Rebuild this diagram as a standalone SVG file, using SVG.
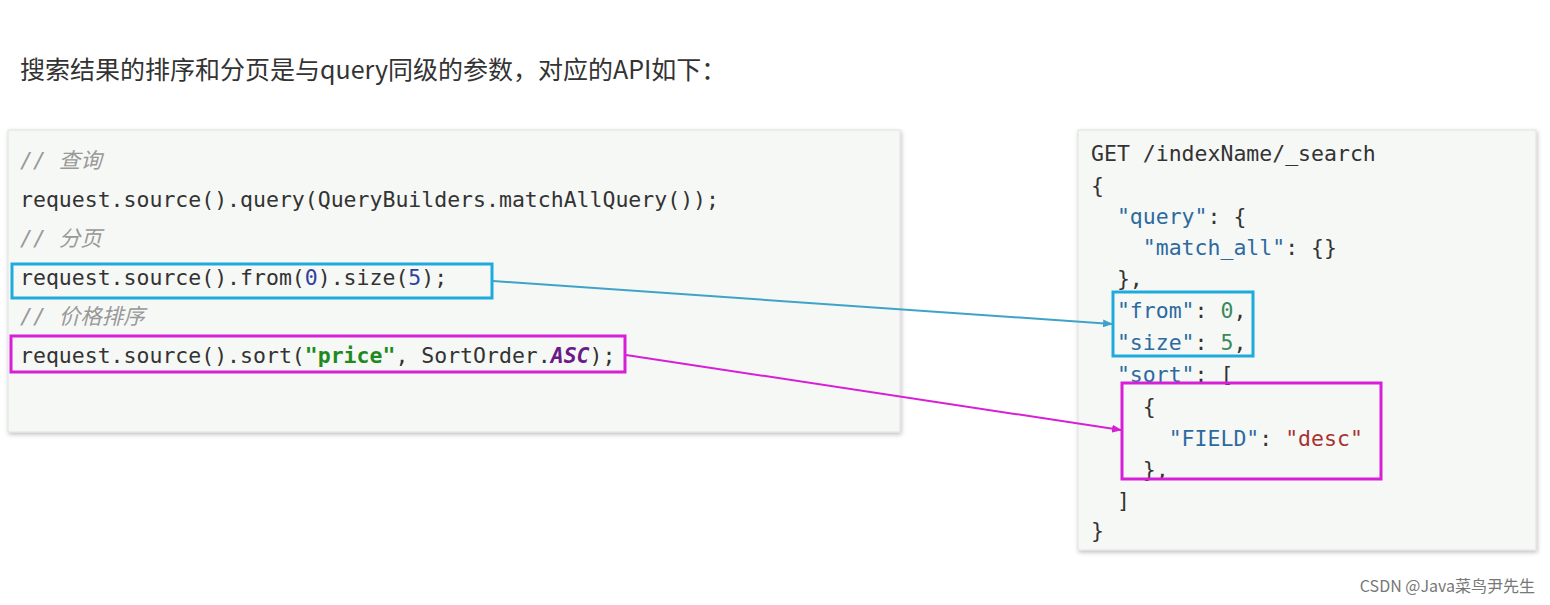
<svg xmlns="http://www.w3.org/2000/svg" width="1550" height="605" viewBox="0 0 1550 605">
<defs>
<style>
.code{font-family:"DejaVu Sans Mono",monospace;font-size:21.5px;fill:#333}
.cm{font-family:"DejaVu Sans Mono","Noto Sans CJK SC",monospace;font-size:21.5px;fill:#999;font-style:italic}
.key{fill:#2d6aa0}.num{fill:#3a8a5a}.str{fill:#a83232}
.panel{fill:#f6f8f6;stroke:#e0e0e0;filter:url(#sh)}
</style>
<filter id="sh" x="-5%" y="-5%" width="110%" height="110%"><feDropShadow dx="1" dy="2" stdDeviation="2" flood-color="#000" flood-opacity="0.25"/></filter>
<marker id="ab" markerWidth="10" markerHeight="8" refX="9" refY="4" orient="auto" markerUnits="userSpaceOnUse"><path d="M0,0 L10,4 L0,8 Z" fill="#3fa3c8"/></marker>
<marker id="am" markerWidth="10" markerHeight="8" refX="9" refY="4" orient="auto" markerUnits="userSpaceOnUse"><path d="M0,0 L10,4 L0,8 Z" fill="#d61fd6"/></marker>
</defs>
<rect width="1550" height="605" fill="#fff"/>
<text x="20" y="79" font-family="'Noto Sans CJK SC',sans-serif" font-size="25" fill="#333">搜索结果的排序和分页是与query同级的参数，对应的API如下：</text>
<g id="left-panel">
<rect class="panel" x="8" y="130" width="892" height="302"/>
<text class="cm" x="20" y="168">// 查询</text>
<text class="code" x="20" y="207">request.source().query(QueryBuilders.matchAllQuery());</text>
<text class="cm" x="20" y="246">// 分页</text>
<text class="code" x="20" y="285">request.source().from(<tspan fill="#3040a0">0</tspan>).size(<tspan fill="#3040a0">5</tspan>);</text>
<text class="cm" x="20" y="324">// 价格排序</text>
<text class="code" x="20" y="363">request.source().sort(<tspan fill="#1e8a1e" font-weight="bold">"price"</tspan>, SortOrder.<tspan fill="#6a1a8a" font-weight="bold" font-style="italic">ASC</tspan>);</text>
</g>
<g id="right-panel">
<rect class="panel" x="1078" y="130" width="458" height="420"/>
<text class="code" x="1091" y="161">GET /indexName/_search</text>
<text class="code" x="1091" y="193">{</text>
<text class="code" x="1091" y="224" xml:space="preserve">  <tspan class="key">"query"</tspan>: {</text>
<text class="code" x="1091" y="255" xml:space="preserve">    <tspan class="key">"match_all"</tspan>: {}</text>
<text class="code" x="1091" y="286" xml:space="preserve">  },</text>
<text class="code" x="1091" y="318" xml:space="preserve">  <tspan class="key">"from"</tspan>: <tspan class="num">0</tspan>,</text>
<text class="code" x="1091" y="350" xml:space="preserve">  <tspan class="key">"size"</tspan>: <tspan class="num">5</tspan>,</text>
<text class="code" x="1091" y="382" xml:space="preserve">  <tspan class="key">"sort"</tspan>: [</text>
<text class="code" x="1091" y="414" xml:space="preserve">    {</text>
<text class="code" x="1091" y="446" xml:space="preserve">      <tspan class="key">"FIELD"</tspan>: <tspan class="str">"desc"</tspan></text>
<text class="code" x="1091" y="477" xml:space="preserve">    },</text>
<text class="code" x="1091" y="508" xml:space="preserve">  ]</text>
<text class="code" x="1091" y="538">}</text>
</g>
<g id="highlights" fill="none" stroke-width="3">
<rect x="12" y="264" width="480" height="34" stroke="#1eaadc"/>
<rect x="11" y="336" width="614" height="36" stroke="#d61fd6"/>
<rect x="1113" y="292" width="140" height="64" stroke="#1eaadc"/>
<rect x="1122" y="383" width="259" height="96" stroke="#d61fd6"/>
</g>
<g id="connectors" fill="none" stroke-width="2">
<line x1="493" y1="281" x2="1112" y2="324" stroke="#3fa3c8" marker-end="url(#ab)"/>
<line x1="626" y1="355" x2="1121" y2="430" stroke="#d61fd6" marker-end="url(#am)"/>
</g>
<text x="1535" y="592" text-anchor="end" font-family="'Noto Sans CJK SC',sans-serif" font-size="16" fill="#777">CSDN @Java菜鸟尹先生</text>
</svg>
